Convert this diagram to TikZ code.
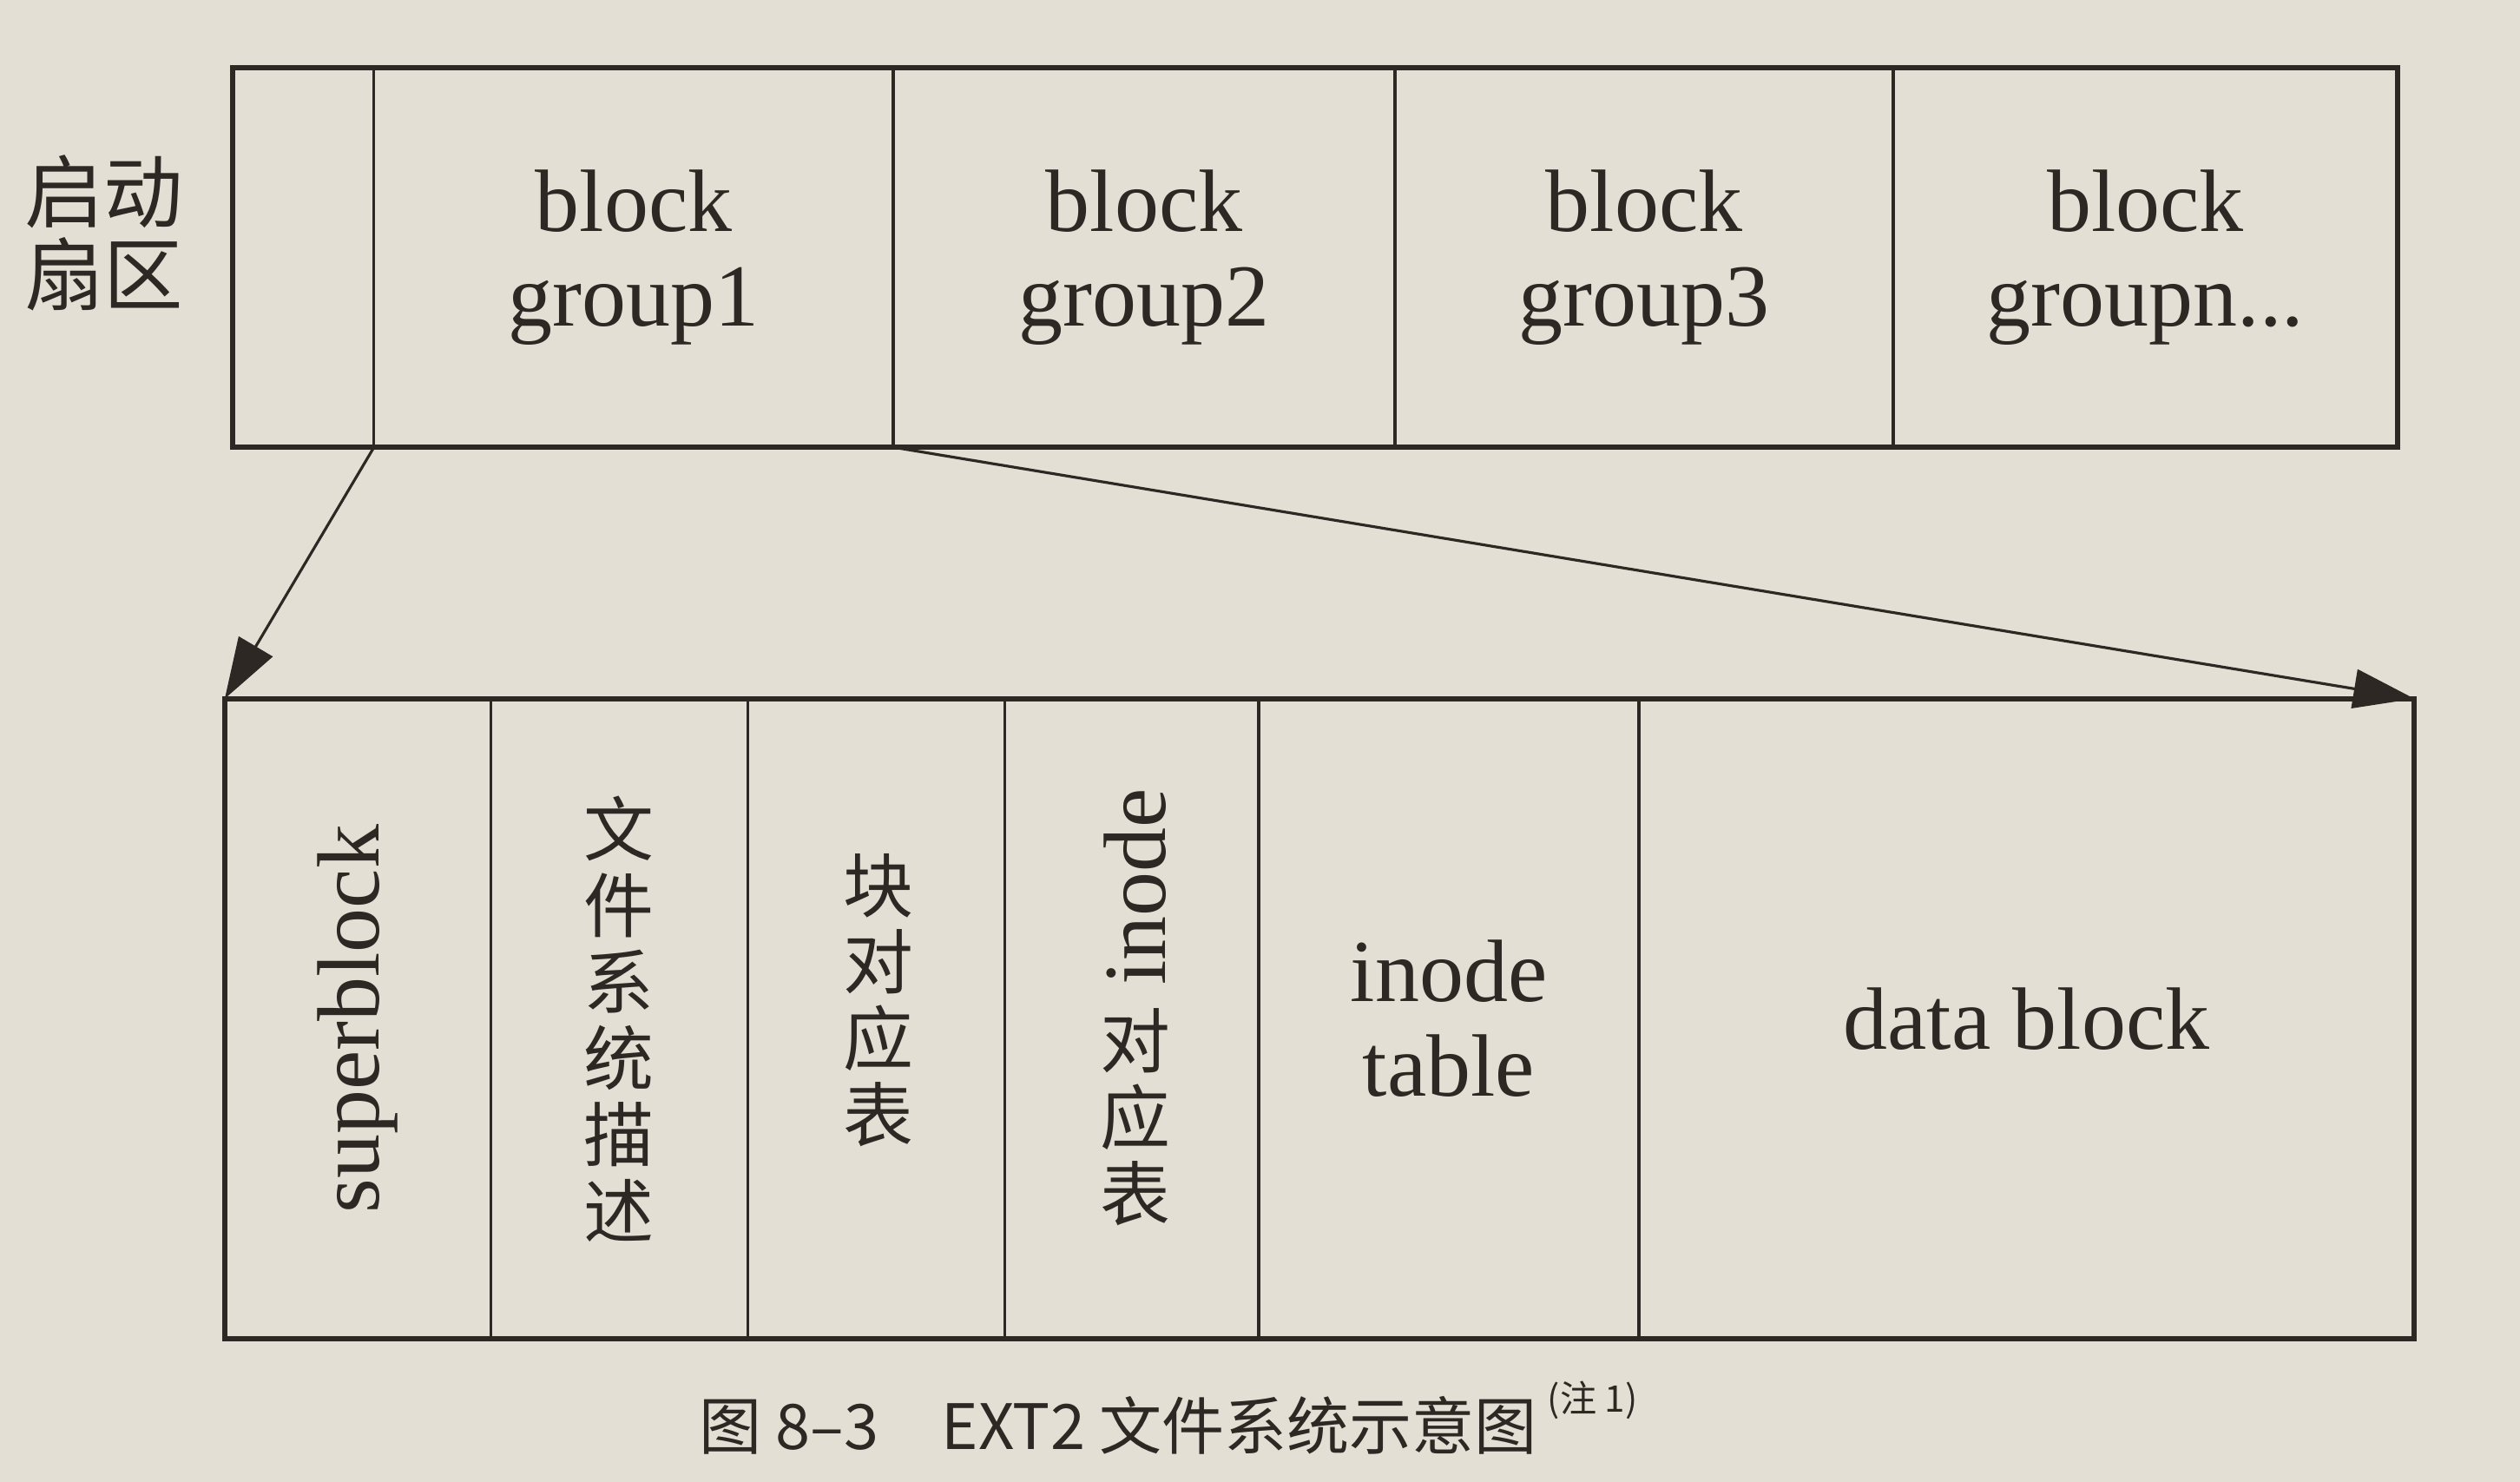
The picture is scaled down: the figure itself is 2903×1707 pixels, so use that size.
\documentclass[tikz,border=0pt]{standalone}
\usepackage{fontspec}
\setmainfont{Liberation Serif}
\newfontfamily\cjk{Noto Sans CJK SC}
\usetikzlibrary{arrows.meta}
\definecolor{paper}{RGB}{228,223,212}
\definecolor{ink}{RGB}{45,40,36}
\begin{document}
\begin{tikzpicture}[x=0.01cm,y=-0.01cm,
  cell/.style={draw=ink, line width=0.8pt, inner sep=0pt, outer sep=0pt, text=ink, align=center,
    font=\fontsize{29}{31}\selectfont},
  toprow/.style={cell, minimum height=4.37cm},
  botrow/.style={cell, minimum height=7.37cm},
  vcjk/.style={font=\cjk\fontsize{23}{25}\selectfont},
  frame/.style={draw=ink, line width=1.6pt},
  link/.style={draw=ink, line width=0.9pt, -{Triangle[length=0.7cm,width=0.45cm]}},
  lab/.style={text=ink, align=center, inner sep=0pt}]
\fill[paper] (0,0) rectangle (2903,1707);
% top row
\node[toprow, minimum width=1.63cm] (sec) at (349.5,296.5) {};
\node[toprow, minimum width=5.98cm] (g1) at (730,296.5) {block\\group1};
\node[toprow, minimum width=5.78cm] (g2) at (1318,296.5) {block\\group2};
\node[toprow, minimum width=5.74cm] (g3) at (1894,296.5) {block\\group3};
\node[toprow, minimum width=5.81cm] (gn) at (2471.5,296.5) {block\\groupn...};
\draw[frame] (sec.north west) rectangle (gn.south east);
\node[lab, font=\cjk\fontsize{26}{27}\selectfont] (boot) at (120,268) {启动\\扇区};
% bottom row
\node[botrow, minimum width=3.06cm] (sb) at (412,1173.5) {};
\node[lab, rotate=90, font=\fontsize{29}{31}\selectfont] (sbt) at (sb.center) {superblock};
\node[botrow, minimum width=2.96cm, vcjk] (fsd) at (713,1173.5) {文\\件\\系\\统\\描\\述};
\node[botrow, minimum width=2.96cm] (bmap) at (1009,1173.5) {};
\node[lab, vcjk] (bmapt) at (1012,1152) {块\\对\\应\\表};
\node[botrow, minimum width=2.93cm] (imap) at (1303.5,1173.5) {};
\node[lab, font=\cjk\fontsize{23}{25}\selectfont] (imapt) at (1308,1160)
  {\rotatebox{90}{\fontspec{Liberation Serif}\fontsize{29}{31}\selectfont inode}\\[2pt]对\\应\\表};
\node[botrow, minimum width=4.38cm] (itab) at (1669,1173.5) {inode\\table};
\node[botrow, minimum width=8.93cm] (data) at (2334.5,1173.5) {data block};
\draw[frame] (sb.north west) rectangle (data.south east);
% connectors
\draw[link] (g1.south west) -- (sb.north west);
\draw[link] (g2.south west) -- (data.north east);
% caption
\node[lab, anchor=west, font=\cjk\fontsize{20.5}{22}\selectfont] (cap) at (805,1633)
  {图 8–3\quad EXT2 文件系统示意图\,\raisebox{1.1ex}{\fontsize{12}{13}\selectfont (注 1)}};
\end{tikzpicture}
\end{document}
